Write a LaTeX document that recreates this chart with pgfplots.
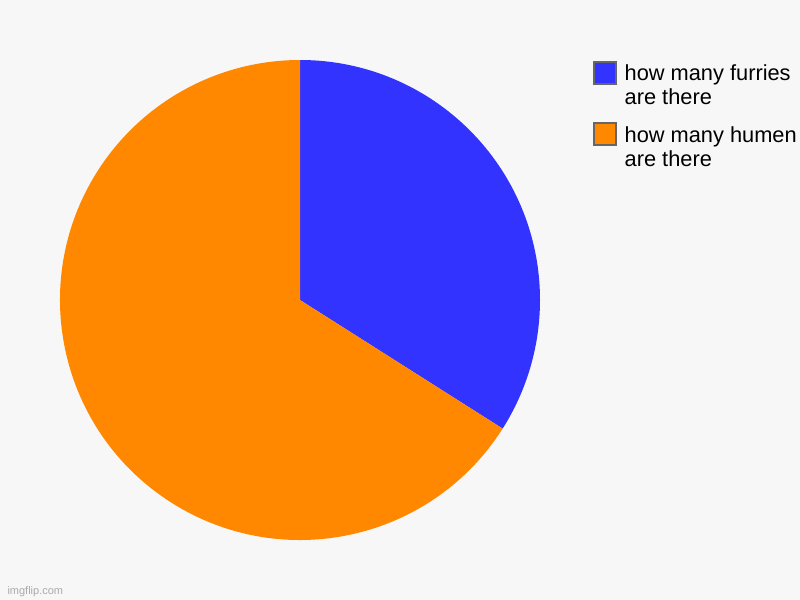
\documentclass[border=0pt]{standalone}
\usepackage{pgfplots}
\pgfplotsset{compat=1.18}
\usepackage{pgfplotstable}
\usepackage{fontspec}
\setmainfont{Liberation Sans}

\definecolor{furblue}{HTML}{3333FF}
\definecolor{humorange}{HTML}{FF8800}
\definecolor{bggray}{HTML}{F7F7F7}
\definecolor{boxgray}{HTML}{666666}
\definecolor{markgray}{HTML}{AAAAAA}

% share of each group
\pgfplotstableread{
group value
furries 34
humen 66
}\piedata

\begin{document}
\begin{tikzpicture}
\pgfplotstablegetelem{0}{value}\of\piedata \let\vA\pgfplotsretval
\pgfplotstablegetelem{1}{value}\of\piedata \let\vB\pgfplotsretval
\pgfmathsetmacro{\aEnd}{90-360*\vA/(\vA+\vB)}
\begin{axis}[
  at={(0,0)}, anchor=south west,
  x=1bp, y=1bp, scale only axis,
  xmin=0, xmax=800, ymin=0, ymax=600,
  hide axis, clip=false,
  legend style={at={(0.7375,0.895)}, anchor=north west, draw=none, fill=none,
    font=\fontsize{21.8bp}{23.4bp}\selectfont, nodes={align=left, inner sep=0pt},
    row sep=21bp, column sep=7.5bp},
  legend cell align=left,
  legend image code/.code={%
    \path[use as bounding box, draw=none, fill=none] (-1bp,-4bp) rectangle (23bp,18bp);
    \draw[#1, draw=boxgray, line width=2bp] (0bp,2bp) rectangle (22bp,24bp);},
]
\fill[bggray] (axis cs:0,0) rectangle (axis cs:800,600);
\fill[furblue] (axis cs:300,300) -- (axis cs:300,540)
  arc[start angle=90, end angle=\aEnd, radius=240bp] -- cycle;
\fill[humorange] (axis cs:300,300) -- ++(\aEnd:240bp)
  arc[start angle=\aEnd, end angle=-270, radius=240bp] -- cycle;
\addlegendimage{fill=furblue}
\addlegendentry{how many furries\\are there}
\addlegendimage{fill=humorange}
\addlegendentry{how many humen\\are there}
\node[anchor=base west, text=markgray, font=\fontsize{11bp}{13bp}\selectfont]
  at (axis cs:4,6) {imgflip.com};
\end{axis}
\pgfresetboundingbox
\path[use as bounding box] (0,0) rectangle (800bp,600bp);
\end{tikzpicture}
\end{document}
